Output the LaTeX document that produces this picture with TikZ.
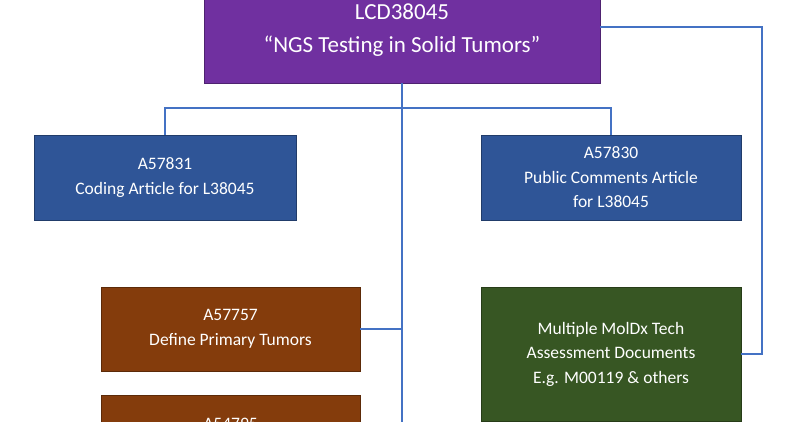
\documentclass[tikz,border=0pt]{standalone}
\usepackage{fontspec}
\setmainfont{Carlito}
\begin{document}
\begin{tikzpicture}[x=1pt,y=-1pt,
  box/.style={draw=#1!70!black,fill=#1,text=white,inner sep=0pt,line width=0.8pt,align=center,font=\fontsize{17.5}{24.5}\selectfont},
  ttl/.style={text=white,font=\fontsize{23}{32}\selectfont,inner sep=0pt,anchor=base},
  conn/.style={draw=lineblue,line width=2pt}]
\definecolor{purp}{HTML}{7030A0}
\definecolor{bluebox}{HTML}{2F5597}
\definecolor{brownbox}{HTML}{843C0C}
\definecolor{greenbox}{HTML}{375623}
\definecolor{lineblue}{HTML}{4472C4}
\useasboundingbox (0,0) rectangle (805,422);
\clip (0,0) rectangle (805,422);
\node[box=purp,minimum width=396pt,minimum height=100pt] (top) at (402,33) {};
\node[ttl] (tt1) at (402,20) {LCD38045};
\node[ttl] (tt2) at (402,53) {“NGS Testing in Solid Tumors”};
\node[box=bluebox,minimum width=262pt,minimum height=85pt] (a1) at (165,177.5) {A57831\\Coding Article for L38045};
\node[box=bluebox,minimum width=260pt,minimum height=85pt] (a2) at (611,177.5) {A57830\\Public Comments Article\\for L38045};
\node[box=brownbox,minimum width=259pt,minimum height=84pt] (b1) at (230.5,329) {A57757\\Define Primary Tumors};
\node[box=brownbox,minimum width=259pt,minimum height=84pt] (b2) at (230.5,437) {};
\node[text=white,font=\fontsize{17.5}{24.5}\selectfont,inner sep=0pt,anchor=base] (b2t) at (230.5,429) {A54795};
\node[box=greenbox,minimum width=260pt,minimum height=134pt] (g) at (611,354) {Multiple MolDx Tech\\Assessment Documents\\E.g. M00119 \& others};
\coordinate (mid) at (402,108);
\coordinate (bot) at (402,430);
\draw[conn] (top.south -| mid) -- (bot);
\draw[conn] (a1.north) |- (mid) -| (a2.north);
\draw[conn] (b1.east) -- (b1.east -| mid);
\draw[conn] (top.east |- 0,27) -- (762,27) |- (g.east);
\end{tikzpicture}
\end{document}
